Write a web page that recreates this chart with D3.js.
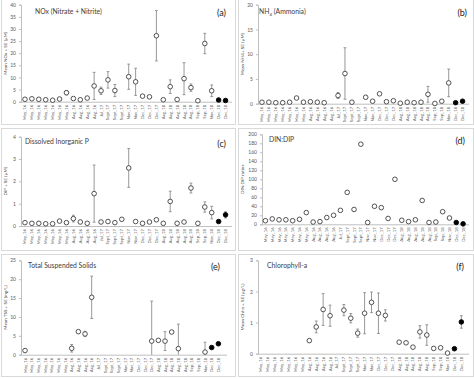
<!DOCTYPE html>
<html><head><meta charset="utf-8">
<script src="https://cdn.jsdelivr.net/npm/d3@7/dist/d3.min.js"></script>
<style>body{margin:0;background:#fff}svg{display:block;font-family:Lato,"Open Sans",sans-serif}</style>
</head><body><svg id="c" width="474" height="379"></svg>
<script>
const categories = ["May_16","May_16","May_16","May_16","May_16","May_16","May_16","Aug_16","Aug_16","Aug_16","Aug_16","Jul_17","Sept_17","Sept_17","Sept_17","Nov_17","Nov_17","Dec_17","Dec_17","Dec_17","Aug_18","Aug_18","Aug_18","Aug_18","Aug_18","Sep_18","Sep_18","Nov_18","Dec_18","Dec_18"];
// last two are the filled (black) points
const filledFrom = 28;

const noxMean = [1.0,1.2,1.0,0.8,0.6,1.1,3.7,1.3,0.8,1.5,6.5,4.5,9.0,4.6,null,10.3,8.2,2.3,2.0,27.2,0.8,6.2,0.9,9.5,5.8,0.4,24.0,4.5,0.7,0.5];
const noxSE   = [0,0,0,0,0,0,0.9,0,0,0,5.6,1.5,3.4,2.5,null,5.2,5.6,0,0,10.4,0,2.8,0,6.6,1.5,0,4.2,2.4,0,0];
const nh4Mean = [0.3,0.3,0.2,0.2,0.3,1.15,0.3,0.4,0.3,0.2,null,1.65,6.1,0.3,null,1.3,0.5,2.0,0.4,0.6,0.1,0.3,0.2,0.3,1.9,0.05,0.5,4.2,0.2,0.5];
const nh4SE   = [0,0,0,0,0,0,0,0,0,0,null,0.6,5.2,0,null,0,0,0,0,0,0,0,0,0,1.6,0,0,2.8,0,0];
const dipMean = [0.15,0.12,0.12,0.1,0.1,0.22,0.15,0.33,0.18,0.12,1.45,0.18,0.2,0.15,0.3,2.6,0.2,0.12,0.18,0.28,0.12,1.1,0.12,0.18,1.7,0.12,0.85,0.6,0.2,0.5];
const dipSE   = [0,0,0,0,0,0,0,0.15,0,0,1.28,0,0,0,0,0.87,0,0,0,0,0,0.46,0,0,0.22,0,0.23,0.28,0,0.14];
const dinDipRatio = [8,12,10,10,8,11,26,5,6,15,20,31,71,33,178,4,40,37,13,100,9,6,10,53,4,5,28,14,4,1];
const tssMean = [1.1,null,null,null,null,null,null,1.7,6.1,5.5,15.2,null,null,null,null,null,null,null,null,3.6,3.8,3.6,6.0,1.6,null,null,null,0.7,1.9,2.9];
const tssSE   = [0,null,null,null,null,null,null,1.0,0,0.7,5.6,null,null,null,null,null,null,null,null,10.6,0,2.5,0,6.5,null,null,null,2.6,0,0];
const chlMean = [null,null,null,null,null,null,null,0.42,0.86,1.42,1.22,null,1.4,1.14,0.66,1.3,1.65,1.3,1.23,null,0.37,0.35,0.21,0.7,0.6,0.17,0.19,0.02,0.16,1.02];
const chlSE   = [null,null,null,null,null,null,null,0,0.19,0.51,0.34,null,0.18,0.15,0.13,0.66,0.33,0.65,0.18,null,0,0,0,0.2,0.33,0,0,0,0,0.2];

const yTicksNox = d3.range(0,41,5), yTicksNh4 = d3.range(0,21,5), yTicksDip = d3.range(0,5,1),
      yTicksRatio = d3.range(0,201,20), yTicksTss = d3.range(0,26,5), yTicksChl = d3.range(0,4,1);

const panels = [
 {title:"NOx (Nitrate + Nitrite)", tag:"(a)", ylab:"Mean NOx + SE (µM)", mean:noxMean, se:noxSE, ticks:yTicksNox,
  frame:[1,-1,235,124], ax:21, xr:[21.5,229], xend:232, y0:101.7, y1:4.7, tx:35, ty:14, tagx:226, tagy:16, ylx:7},
 {title:"NH4", sub:"4", tag:"(b)", ylab:"Mean NH4+ SE (µM)", mean:nh4Mean, se:nh4SE, ticks:yTicksNh4,
  frame:[238,-1,473,124], ax:258, xr:[258.5,466], xend:469, y0:103.7, y1:4.7, tx:259, ty:14, tagx:467, tagy:16, ylx:244},
 {title:"Dissolved Inorganic P", tag:"(c)", ylab:"DIP  + SE (µM)", mean:dipMean, se:dipSE, ticks:yTicksDip,
  frame:[1,128,235,250], ax:21, xr:[21.5,229], xend:232, y0:226, y1:136.7, tx:25, ty:144, tagx:226, tagy:147, ylx:7},
 {title:"DIN:DIP", tag:"(d)", ylab:"DIN:DIP ratios", mean:dinDipRatio, se:null, ticks:yTicksRatio,
  frame:[238,128,473,250], ax:262, xr:[262,466.5], xend:469, y0:224.3, y1:134.3, tx:269, ty:142, tagx:465, tagy:144, ylx:244},
 {title:"Total Suspended Solids", tag:"(e)", ylab:"Mean TSS + SE  (mg/L)", mean:tssMean, se:tssSE, ticks:yTicksTss,
  frame:[1,254,235,376], ax:21, xr:[21.7,221.7], xend:227, y0:354.7, y1:260.3, tx:28, ty:268, tagx:220, tagy:270, ylx:7},
 {title:"Chlorophyll-a", tag:"(f)", ylab:"Mean Chl-a + SE (µg/L)", mean:chlMean, se:chlSE, ticks:yTicksChl,
  frame:[238,254,473,376], ax:258, xr:[257.5,464.8], xend:469, y0:353.7, y1:260.3, tx:267, ty:268, tagx:464, tagy:270, ylx:244}
];

const svg = d3.select("#c");
panels.forEach(p => {
  const g = svg.append("g");
  g.append("rect").attr("x",p.frame[0]+0.5).attr("y",p.frame[1]+0.5)
    .attr("width",p.frame[2]-p.frame[0]).attr("height",p.frame[3]-p.frame[1])
    .attr("fill","#fff").attr("stroke","#d9d9d9").attr("stroke-width",1);
  const x = d3.scaleBand().domain(d3.range(categories.length)).range(p.xr);
  const tmax = p.ticks[p.ticks.length-1];
  const y = d3.scaleLinear().domain([0,tmax]).range([p.y0,p.y1]);

  // y axis
  const ya = g.append("g").attr("transform",`translate(${p.ax},0)`)
    .call(d3.axisLeft(y).tickValues(p.ticks).tickFormat(d3.format("d")).tickSize(2).tickPadding(3));
  ya.select(".domain").attr("stroke","#bfbfbf");
  ya.selectAll(".tick line").attr("stroke","#bfbfbf");
  ya.selectAll(".tick text").attr("fill","#595959").style("font-size","5px").style("font-family","Lato,sans-serif");
  // x axis line
  g.append("line").attr("x1",p.ax).attr("x2",p.xend).attr("y1",p.y0+0.5).attr("y2",p.y0+0.5).attr("stroke","#bfbfbf");
  // x labels
  g.selectAll(".xl").data(categories).join("text")
    .attr("transform",(d,i)=>`translate(${x(i)+x.bandwidth()/2+1.5},${p.y0+3}) rotate(-90)`)
    .attr("text-anchor","end").attr("fill","#595959").style("font-size","4.3px").text(d=>d);
  // y label
  g.append("text").attr("transform",`translate(${p.ylx},${(p.y0+p.y1)/2}) rotate(-90)`)
    .attr("text-anchor","middle").attr("fill","#404040").style("font-size","4.6px").text(p.ylab);
  // title
  const t = g.append("text").attr("x",p.tx).attr("y",p.ty).attr("fill","#404040").style("font-size","6.8px");
  if (p.sub) {
    t.append("tspan").text("NH");
    t.append("tspan").attr("dy",1.5).style("font-size","4.5px").text("4");
    t.append("tspan").attr("dy",-1.5).text(" (Ammonia)");
  } else t.text(p.title);
  g.append("text").attr("x",p.tagx).attr("y",p.tagy).attr("text-anchor","end").attr("fill","#222")
    .style("font-size","9px").text(p.tag);

  const pts = p.mean.map((m,i)=>({i, m, se: p.se ? p.se[i] : 0})).filter(d=>d.m!==null);
  // error bars
  const eb = pts.filter(d=>d.se>0);
  const cx = d => x(d.i)+x.bandwidth()/2;
  g.selectAll(".eb").data(eb).join("line")
    .attr("x1",cx).attr("x2",cx).attr("y1",d=>y(d.m+d.se)).attr("y2",d=>y(Math.max(0,d.m-d.se)))
    .attr("stroke","#8c8c8c").attr("stroke-width",0.9);
  g.selectAll(".cap1").data(eb).join("line")
    .attr("x1",d=>cx(d)-1.4).attr("x2",d=>cx(d)+1.4).attr("y1",d=>y(d.m+d.se)).attr("y2",d=>y(d.m+d.se))
    .attr("stroke","#8c8c8c").attr("stroke-width",0.9);
  g.selectAll(".cap2").data(eb.filter(d=>d.m-d.se>0)).join("line")
    .attr("x1",d=>cx(d)-1.4).attr("x2",d=>cx(d)+1.4).attr("y1",d=>y(d.m-d.se)).attr("y2",d=>y(d.m-d.se))
    .attr("stroke","#8c8c8c").attr("stroke-width",0.9);
  g.selectAll(".pt").data(pts).join("circle")
    .attr("cx",cx).attr("cy",d=>y(d.m)).attr("r",2.3)
    .attr("fill",d=>d.i>=filledFrom?"#000":"#fff")
    .attr("stroke",d=>d.i>=filledFrom?"#000":"#404040").attr("stroke-width",0.9);
});
</script></body></html>
